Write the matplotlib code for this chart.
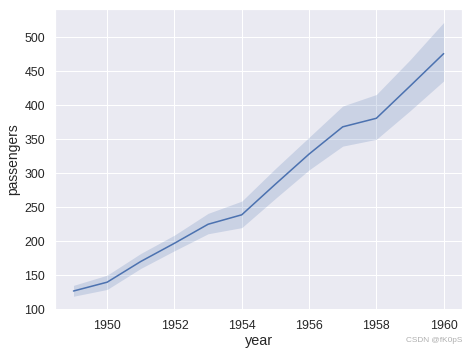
import matplotlib
matplotlib.use("Agg")
import matplotlib.pyplot as plt
import seaborn as sns

# yearly mean passengers and the shaded confidence band
years = [1949, 1950, 1951, 1952, 1953, 1954, 1955, 1956, 1957, 1958, 1959, 1960]
passengers = [126.7, 139.7, 170.2, 197.0, 225.0, 238.9, 284.0, 328.3, 368.4, 381.0, 428.3, 476.2]
ci_low = [119, 129, 160, 186, 211, 220, 263, 305, 340, 350, 392, 436]
ci_high = [135, 150, 182, 209, 241, 259, 307, 353, 399, 416, 467, 522]
xticks = [1950, 1952, 1954, 1956, 1958, 1960]

sns.set_theme()
plt.rcParams['font.family'] = ['Liberation Sans', 'DejaVu Sans']

fig, ax = plt.subplots(figsize=(474 / 74, 353 / 74), dpi=74)
fig.subplots_adjust(left=0.116, right=0.975, top=0.975, bottom=0.122)

color = sns.color_palette()[0]
ax.plot(years, passengers, color=color, lw=1.5)
ax.fill_between(years, ci_low, ci_high, color=color, alpha=0.2, lw=0)
ax.set_xticks(xticks)
ax.tick_params(labelsize=12, labelcolor="#262626")
ax.set_xlabel("year", fontsize=14, color="#262626", labelpad=2)
ax.set_ylabel("passengers", fontsize=13.5, color="#262626", labelpad=4)

# watermark in the lower right corner
fig.text(0.975, 0.034, "CSDN @fK0pS", ha="right", va="center", fontsize=8, color="#b0b0b0")

fig.savefig("out.png", dpi=74)
